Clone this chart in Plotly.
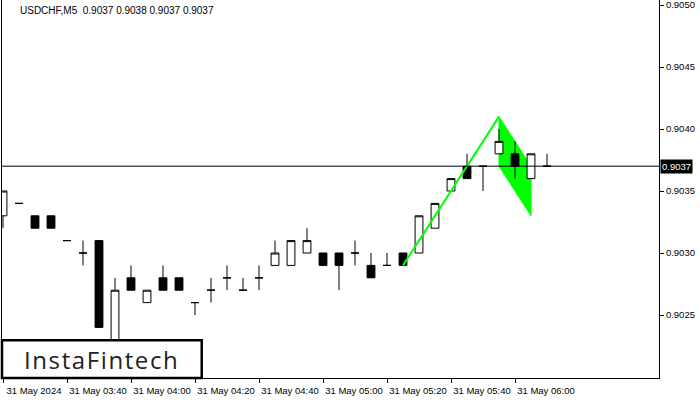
import plotly.graph_objects as go
import pandas as pd

# ---- data ----
start_time = "2024-05-31 03:20"
opens  = [0.9033, 0.9034, 0.9033, 0.9033, 0.9031, 0.9030, 0.9031, 0.9022, 0.9028, 0.9026,
          0.9028, 0.9028, 0.9026, 0.9027, 0.9028, 0.9027, 0.9028, 0.9029, 0.9029, 0.9030,
          0.9030, 0.9030, 0.9030, 0.9029, 0.9029, 0.9030, 0.9030, 0.9032, 0.9035, 0.9037,
          0.9037, 0.9038, 0.9038, 0.9036, 0.9037]
highs  = [0.9035, 0.9034, 0.9033, 0.9033, 0.9031, 0.9031, 0.9031, 0.9028, 0.9029, 0.9027,
          0.9029, 0.9028, 0.9026, 0.9028, 0.9029, 0.9028, 0.9029, 0.9031, 0.9031, 0.9032,
          0.9030, 0.9030, 0.9031, 0.9030, 0.9030, 0.9030, 0.9033, 0.9034, 0.9036, 0.9038,
          0.9037, 0.9040, 0.9039, 0.9038, 0.9038]
lows   = [0.9032, 0.9034, 0.9032, 0.9032, 0.9031, 0.9029, 0.9024, 0.9021, 0.9027, 0.9026,
          0.9027, 0.9027, 0.9025, 0.9026, 0.9027, 0.9027, 0.9027, 0.9029, 0.9029, 0.9030,
          0.9029, 0.9027, 0.9029, 0.9028, 0.9029, 0.9029, 0.9030, 0.9032, 0.9035, 0.9036,
          0.9035, 0.9038, 0.9036, 0.9036, 0.9037]
closes = [0.9035, 0.9034, 0.9032, 0.9032, 0.9031, 0.9030, 0.9024, 0.9027, 0.9027, 0.9027,
          0.9027, 0.9027, 0.9026, 0.9027, 0.9028, 0.9027, 0.9028, 0.9030, 0.9031, 0.9031,
          0.9029, 0.9029, 0.9030, 0.9028, 0.9029, 0.9029, 0.9033, 0.9034, 0.9036, 0.9036,
          0.9037, 0.9039, 0.9037, 0.9038, 0.9037]
current_price = 0.9037

# bullish flag pattern (pole + flag)
pole_times  = ["2024-05-31 05:25", "2024-05-31 05:55"]
pole_prices = [0.9029, 0.9041]
flag_times  = ["2024-05-31 05:55", "2024-05-31 06:05", "2024-05-31 06:05", "2024-05-31 05:55"]
flag_prices = [0.9041, 0.9037, 0.9033, 0.9037]

tick_vals  = ["2024-05-31 03:20", "2024-05-31 03:40", "2024-05-31 04:00", "2024-05-31 04:20",
              "2024-05-31 04:40", "2024-05-31 05:00", "2024-05-31 05:20", "2024-05-31 05:40",
              "2024-05-31 06:00"]
tick_text  = ["31 May 2024", "31 May 03:40", "31 May 04:00", "31 May 04:20", "31 May 04:40",
              "31 May 05:00", "31 May 05:20", "31 May 05:40", "31 May 06:00"]
price_ticks = [0.9025, 0.9030, 0.9035, 0.9040, 0.9045, 0.9050]

times = pd.date_range(start_time, periods=len(opens), freq="5min")
FONT = "Liberation Sans"

fig = go.Figure()

# flag body drawn below the candles
flag_path = "M" + "L".join(f"{t.replace(' ', '_')},{p}" for t, p in zip(flag_times, flag_prices)) + "Z"
fig.add_shape(type="path", xref="x", yref="y", path=flag_path, layer="below",
              fillcolor="#00ff00", line=dict(color="#00ff00", width=1))

fig.add_trace(go.Candlestick(
    x=times, open=opens, high=highs, low=lows, close=closes,
    increasing=dict(line=dict(color="black", width=1), fillcolor="white"),
    decreasing=dict(line=dict(color="black", width=1), fillcolor="black"),
    whiskerwidth=0))

fig.add_trace(go.Scatter(
    x=pole_times, y=pole_prices, mode="lines",
    line=dict(color="#00ff00", width=2), hoverinfo="skip"))

fig.add_shape(type="line", xref="paper", x0=0, x1=1, yref="y", y0=current_price, y1=current_price,
              line=dict(color="black", width=1))

fig.add_annotation(xref="paper", x=1, y=current_price, yref="y", text=f"{current_price:.4f}",
                   showarrow=False, xanchor="left", xshift=1, bgcolor="black",
                   font=dict(color="white", size=9.5, family=FONT), borderpad=1)

fig.add_annotation(xref="paper", yref="paper", x=0.0245, y=0.993, xanchor="left", yanchor="top",
                   text="USDCHF,M5  0.9037 0.9038 0.9037 0.9037", showarrow=False,
                   font=dict(color="black", size=10, family=FONT), bgcolor="white")

# logo
fig.add_shape(type="rect", xref="paper", yref="paper", x0=0.0, x1=0.304, y0=0.0, y1=0.1,
              line=dict(color="black", width=2.5), fillcolor="white")
fig.add_annotation(xref="paper", yref="paper", x=0.152, y=0.05,
                   text="<span style='letter-spacing:1.6px'>InstaFintech</span>", showarrow=False,
                   font=dict(color="#222222", size=24, family="Open Sans"), xanchor="center", yanchor="middle")

y_top = 0.9040 + 129 / 124000
y_bot = 0.9040 - 249 / 124000

fig.update_layout(
    width=700, height=400, margin=dict(l=2, r=41, t=0, b=22, autoexpand=False),
    paper_bgcolor="white", plot_bgcolor="white", showlegend=False,
    xaxis=dict(type="date", rangeslider=dict(visible=False),
               range=["2024-05-31 03:19:41.25", "2024-05-31 06:45:00"],
               tickvals=tick_vals, ticktext=tick_text, ticks="outside", ticklen=4,
               tickcolor="black", showgrid=False, zeroline=False, tickangle=0, automargin=False,
               showline=True, linecolor="black", linewidth=1, mirror=False,
               tickfont=dict(size=9.5, family=FONT, color="black"),
               ticklabelshift=31, ticklabelstandoff=0),
    yaxis=dict(side="right", range=[y_bot, y_top], tickvals=price_ticks, automargin=False,
               ticktext=[f"{v:.4f}" for v in price_ticks], ticks="outside", ticklen=4,
               tickcolor="black", showgrid=False, zeroline=False, ticklabeloverflow="allow",
               showline=True, linecolor="black", linewidth=1, mirror=True,
               tickfont=dict(size=9.5, family=FONT, color="black")),
)

fig.write_html("out.html")
